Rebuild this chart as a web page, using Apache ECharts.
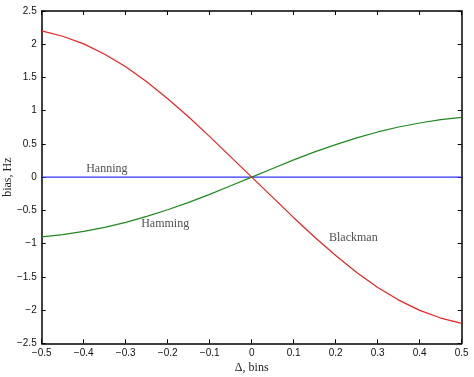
<!DOCTYPE html>
<html><head><meta charset="utf-8">
<script src="https://cdn.jsdelivr.net/npm/echarts@6/dist/echarts.min.js"></script>
<style>html,body{margin:0;padding:0;background:#fff}#c{width:474px;height:377px}</style>
</head><body><div id="c"></div>
<script>
const xVals = [-0.5,-0.45,-0.4,-0.35,-0.3,-0.25,-0.2,-0.15,-0.1,-0.05,0,0.05,0.1,0.15,0.2,0.25,0.3,0.35,0.4,0.45,0.5];
const blackman = [2.2,2.12,2.005,1.85,1.66,1.435,1.18,0.905,0.61,0.305,0,-0.305,-0.61,-0.905,-1.18,-1.435,-1.66,-1.85,-2.005,-2.12,-2.2];
const hamming = [-0.9,-0.865,-0.815,-0.755,-0.68,-0.59,-0.49,-0.38,-0.26,-0.13,0,0.13,0.26,0.38,0.49,0.59,0.68,0.755,0.815,0.865,0.9];
const hanning = [0,0,0,0,0,0,0,0,0,0,0,0,0,0,0,0,0,0,0,0,0];
const annotations = [["Hanning",-0.345,0.126],["Hamming",-0.206,-0.71],["Blackman",0.242,-0.91]];
const xLabel = "Δ, bins";
const yLabel = "bias, Hz";

const pair = (ys) => xVals.map((x,i)=>[x,ys[i]]);
const fmt = v => { let s = (Math.round(v*10)/10).toString(); return s.replace('-', '\u2212'); };
const tickStyle = {inside:true,length:4,lineStyle:{color:'#000',width:1}};
const axisLine = {show:true,onZero:false,lineStyle:{color:'#000',width:1.5}};
const lblFont = {fontFamily:'Liberation Sans, Arial, sans-serif',fontSize:10,color:'#111'};
const serif = {fontFamily:'Liberation Serif, Times New Roman, serif',fontSize:12,color:'#222'};

const chart = echarts.init(document.getElementById('c'));
chart.setOption({
  animation:false,
  backgroundColor:'#fff',
  grid:{left:41.7,right:12.3,top:11,bottom:33.7,containLabel:false,outerBoundsMode:'none'},
  xAxis:[
    {type:'value',min:-0.5,max:0.5,interval:0.1,position:'bottom',axisLine,axisTick:tickStyle,
     splitLine:{show:false},axisLabel:Object.assign({formatter:fmt,margin:5},lblFont),
     name:xLabel,nameLocation:'middle',nameGap:19,nameMoveOverlap:false,
     nameTextStyle:serif},
    {type:'value',min:-0.5,max:0.5,interval:0.1,position:'top',axisLine,axisTick:tickStyle,
     splitLine:{show:false},axisLabel:{show:false}}
  ],
  yAxis:[
    {type:'value',min:-2.5,max:2.5,interval:0.5,position:'left',axisLine,axisTick:tickStyle,
     splitLine:{show:false},axisLabel:Object.assign({formatter:fmt,margin:5},lblFont),
     name:yLabel,nameLocation:'middle',nameGap:28,nameRotate:90,nameMoveOverlap:false,
     nameTextStyle:serif},
    {type:'value',min:-2.5,max:2.5,interval:0.5,position:'right',axisLine,axisTick:tickStyle,
     splitLine:{show:false},axisLabel:{show:false}}
  ],
  series:[
    {type:'line',data:pair(hanning),symbol:'none',smooth:false,lineStyle:{color:'#3333ff',width:1.2},z:3},
    {type:'line',data:pair(hamming),symbol:'none',smooth:false,lineStyle:{color:'#1f8a1f',width:1.2},z:3},
    {type:'line',data:pair(blackman),symbol:'none',smooth:false,lineStyle:{color:'#ee2222',width:1.2},z:3},
    {type:'scatter',symbolSize:0,silent:true,data:annotations.map(a=>({value:[a[1],a[2]],name:a[0]})),
     label:Object.assign({show:true,position:'inside',formatter:p=>p.name},serif)}
  ]
});
</script></body></html>
